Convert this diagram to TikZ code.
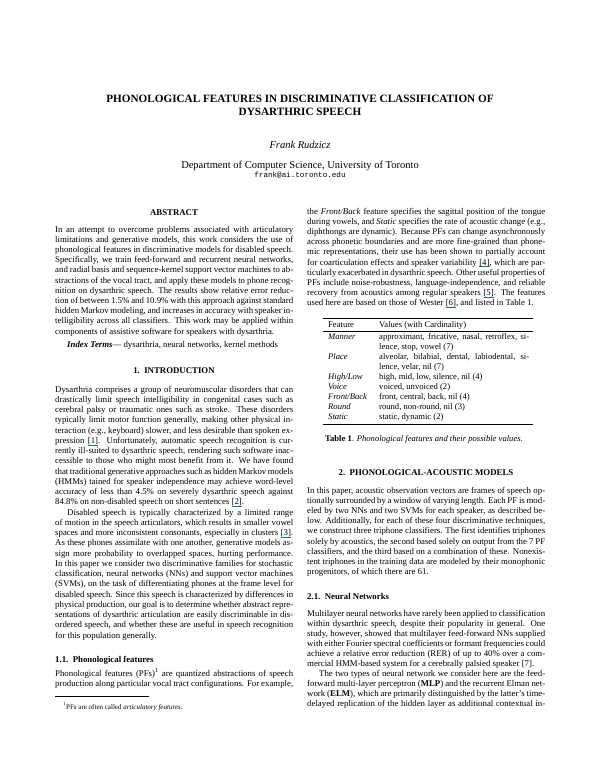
\documentclass[tikz,border=0pt]{standalone}
\usepackage{fontspec}
\setmainfont{Liberation Serif}
\setmonofont{Liberation Mono}
\newcommand\ct[1]{\setbox0\hbox{[#1]}\leavevmode\rlap{\color{cyan!50!blue}\rule[-1.8pt]{\wd0}{0.5pt}}\box0}
\newcommand\jl[1]{\hbox to \hsize{#1}}
\newcommand\nl[1]{\hbox{#1}}
\newcommand\ind{\hspace*{12pt}}
\tikzset{
  col/.style={anchor=base west,inner sep=0pt,font=\fontsize{8.8}{10.2}\selectfont},
  head/.style={anchor=base,inner sep=0pt,font=\fontsize{8.8}{10.2}\selectfont\bfseries},
  subhead/.style={anchor=base west,inner sep=0pt,font=\fontsize{8.8}{10.2}\selectfont\bfseries},
  cell/.style={anchor=base west,inner sep=0pt,font=\fontsize{8.6}{10}\selectfont}
}
\begin{document}
\begin{tikzpicture}[x=1pt,y=-1pt]
\useasboundingbox[fill=white] (0,0) rectangle (600,776);
% title block
\node[anchor=base,inner sep=0pt,font=\fontsize{11.2}{12}\selectfont\bfseries] (t1) at (300,102) {PHONOLOGICAL FEATURES IN DISCRIMINATIVE CLASSIFICATION OF};
\node[anchor=base,inner sep=0pt,font=\fontsize{11.2}{12}\selectfont\bfseries] (t2) at (300,115) {DYSARTHRIC SPEECH};
\node[anchor=base,inner sep=0pt,font=\fontsize{10.5}{12}\selectfont\itshape] (au) at (300,148) {Frank Rudzicz};
\node[anchor=base,inner sep=0pt,font=\fontsize{10.5}{12}\selectfont] (dp) at (300,168) {Department of Computer Science, University of Toronto};
\node[anchor=base,inner sep=0pt,font=\fontsize{7.6}{9}\selectfont\ttfamily] (em) at (300,177) {frank@ai.toronto.edu};
% left column
\node[head] (abh) at (174,215) {ABSTRACT};
\node[col] (abs) at (55,232) {\vtop{\hsize=238pt\baselineskip=10.2pt
\jl{In an attempt to overcome problems associated with articulatory}
\jl{limitations and generative models, this work considers the use of}
\jl{phonological features in discriminative models for disabled speech.}
\jl{Specifically, we train feed-forward and recurrent neural networks,}
\jl{and radial basis and sequence-kernel support vector machines to ab-}
\jl{stractions of the vocal tract, and apply these models to phone recog-}
\jl{nition on dysarthric speech. The results show relative error reduc-}
\jl{tion of between 1.5\% and 10.9\% with this approach against standard}
\jl{hidden Markov modeling, and increases in accuracy with speaker in-}
\jl{telligibility across all classifiers. This work may be applied within}
\nl{components of assistive software for speakers with dysarthria.}}};
\node[col] (idx) at (67,347) {\textbf{\textit{Index Terms}}— dysarthria, neural networks, kernel methods};
\node[head] (s1) at (174,373) {1.\ \ INTRODUCTION};
\node[col] (intro) at (55,392) {\vtop{\hsize=238pt\baselineskip=10.25pt
\jl{Dysarthria comprises a group of neuromuscular disorders that can}
\jl{drastically limit speech intelligibility in congenital cases such as}
\jl{cerebral palsy or traumatic ones such as stroke. These disorders}
\jl{typically limit motor function generally, making other physical in-}
\jl{teraction (e.g., keyboard) slower, and less desirable than spoken ex-}
\jl{pression \ct{1}. Unfortunately, automatic speech recognition is cur-}
\jl{rently ill-suited to dysarthric speech, rendering such software inac-}
\jl{cessible to those who might most benefit from it. We have found}
\jl{that traditional generative approaches such as hidden Markov models}
\jl{(HMMs) tained for speaker independence may achieve word-level}
\jl{accuracy of less than 4.5\% on severely dysarthric speech against}
\nl{84.8\% on non-disabled speech on short sentences \ct{2}.}
\jl{\ind Disabled speech is typically characterized by a limited range}
\jl{of motion in the speech articulators, which results in smaller vowel}
\jl{spaces and more inconsistent consonants, especially in clusters \ct{3}.}
\jl{As these phones assimilate with one another, generative models as-}
\jl{sign more probability to overlapped spaces, hurting performance.}
\jl{In this paper we consider two discriminative families for stochastic}
\jl{classification, neural networks (NNs) and support vector machines}
\jl{(SVMs), on the task of differentiating phones at the frame level for}
\jl{disabled speech. Since this speech is characterized by differences in}
\jl{physical production, our goal is to determine whether abstract repre-}
\jl{sentations of dysarthric articulation are easily discriminable in dis-}
\jl{ordered speech, and whether these are useful in speech recognition}
\nl{for this population generally.}}};
\node[subhead] (s11) at (55,662) {1.1.\ \ Phonological features};
\node[col] (pf) at (55,676) {\vtop{\hsize=238pt\baselineskip=10.2pt
\jl{Phonological features (PFs)\textsuperscript{1} are quantized abstractions of speech}
\jl{production along particular vocal tract configurations. For example,}}};
\coordinate (fa) at (55,696);
\coordinate (fb) at (149,696);
\draw[line width=0.5pt] (fa) -- (fb);
\node[anchor=base west,inner sep=0pt,font=\fontsize{7}{8}\selectfont] (fn) at (63,709) {\textsuperscript{1}PFs are often called \textit{articulatory features}.};
% right column
\node[col] (rc) at (307,214) {\vtop{\hsize=238pt\baselineskip=10.2pt
\jl{the \textit{Front/Back} feature specifies the sagittal position of the tongue}
\jl{during vowels, and \textit{Static} specifies the rate of acoustic change (e.g.,}
\jl{diphthongs are dynamic). Because PFs can change asynchronously}
\jl{across phonetic boundaries and are more fine-grained than phone-}
\jl{mic representations, their use has been shown to partially account}
\jl{for coarticulation effects and speaker variability \ct{4}, which are par-}
\jl{ticularly exacerbated in dysarthric speech. Other useful properties of}
\jl{PFs include noise-robustness, language-independence, and reliable}
\jl{recovery from acoustics among regular speakers \ct{5}. The features}
\nl{used here are based on those of Wester \ct{6}, and listed in Table 1.}}};
% table
\coordinate (r1a) at (323,318); \coordinate (r1b) at (533,318);
\coordinate (r2a) at (323,331); \coordinate (r2b) at (533,331);
\coordinate (r3a) at (323,424); \coordinate (r3b) at (533,424);
\draw[line width=0.7pt] (r1a) -- (r1b);
\draw[line width=0.4pt] (r2a) -- (r2b);
\draw[line width=0.7pt] (r3a) -- (r3b);
\node[cell] (hf) at (328,327) {Feature};
\node[cell] (hv) at (379,327) {Values (with Cardinality)};
\node[cell] (f1) at (328,339) {\itshape Manner};
\node[cell] (f2) at (328,359) {\itshape Place};
\node[cell] (f3) at (328,379) {\itshape High/Low};
\node[cell] (f4) at (328,389) {\itshape Voice};
\node[cell] (f5) at (328,399) {\itshape Front/Back};
\node[cell] (f6) at (328,409) {\itshape Round};
\node[cell] (f7) at (328,419) {\itshape Static};
\node[cell] (v1) at (379,339) {\vtop{\hsize=150pt\baselineskip=10pt
\jl{approximant, fricative, nasal, retroflex, si-}\nl{lence, stop, vowel (7)}}};
\node[cell] (v2) at (379,359) {\vtop{\hsize=150pt\baselineskip=10pt
\jl{alveolar, bilabial, dental, labiodental, si-}\nl{lence, velar, nil (7)}}};
\node[cell] (v3) at (379,379) {high, mid, low, silence, nil (4)};
\node[cell] (v4) at (379,389) {voiced, unvoiced (2)};
\node[cell] (v5) at (379,399) {front, central, back, nil (4)};
\node[cell] (v6) at (379,409) {round, non-round, nil (3)};
\node[cell] (v7) at (379,419) {static, dynamic (2)};
\node[anchor=base,inner sep=0pt,font=\fontsize{8.6}{10}\selectfont] (cap) at (424,441) {\textbf{Table 1}. \textit{Phonological features and their possible values.}};
\node[head] (s2) at (426,475) {2.\ \ PHONOLOGICAL-ACOUSTIC MODELS};
\node[col] (p2) at (307,493) {\vtop{\hsize=238pt\baselineskip=10.2pt
\jl{In this paper, acoustic observation vectors are frames of speech op-}
\jl{tionally surrounded by a window of varying length. Each PF is mod-}
\jl{eled by two NNs and two SVMs for each speaker, as described be-}
\jl{low. Additionally, for each of these four discriminative techniques,}
\jl{we construct three triphone classifiers. The first identifies triphones}
\jl{solely by acoustics, the second based solely on output from the 7 PF}
\jl{classifiers, and the third based on a combination of these. Nonexis-}
\jl{tent triphones in the training data are modeled by their monophonic}
\nl{progenitors, of which there are 61.}}};
\node[subhead] (s21) at (307,599) {2.1.\ \ Neural Networks};
\node[col] (p3) at (307,616) {\vtop{\hsize=238pt\baselineskip=10.1pt
\jl{Multilayer neural networks have rarely been applied to classification}
\jl{within dysarthric speech, despite their popularity in general. One}
\jl{study, however, showed that multilayer feed-forward NNs supplied}
\jl{with either Fourier spectral coefficients or formant frequencies could}
\jl{achieve a relative error reduction (RER) of up to 40\% over a com-}
\nl{mercial HMM-based system for a cerebrally palsied speaker [7].}
\jl{\ind The two types of neural network we consider here are the feed-}
\jl{forward multi-layer perceptron (\textbf{MLP}) and the recurrent Elman net-}
\jl{work (\textbf{ELM}), which are primarily distinguished by the latter's time-}
\jl{delayed replication of the hidden layer as additional contextual in-}}};
\end{tikzpicture}
\end{document}
